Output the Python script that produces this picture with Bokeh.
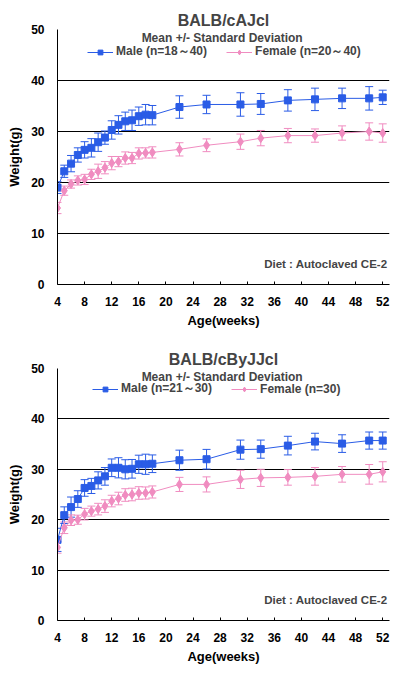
from bokeh.plotting import figure
from bokeh.models import (ColumnDataSource, Whisker, TeeHead, Legend, LegendItem,
                          Label, Range1d, FixedTicker)
from bokeh.layouts import column
from bokeh.embed import file_html
from bokeh.resources import INLINE

# semaines d'âge communes aux deux lignées
weeks = [4, 5, 6, 7, 8, 9, 10, 11, 12, 13, 14, 15, 16, 17, 18, 22, 26, 31, 34, 38, 42, 46, 50, 52]

# BALB/cAJcl
a_male = [19.0, 22.2, 23.7, 25.4, 26.4, 26.8, 27.9, 28.8, 30.3, 31.3, 32.0, 32.2, 33.0, 33.3, 33.2,
          34.8, 35.3, 35.3, 35.4, 36.1, 36.3, 36.5, 36.5, 36.7]
a_male_sd = [1.15, 1.2, 1.6, 1.4, 1.6, 1.8, 1.8, 1.3, 1.8, 1.8, 1.8, 2.0, 1.8, 2.0, 1.9,
             2.2, 1.8, 2.3, 2.05, 2.1, 2.2, 2.0, 2.3, 1.4]
a_female = [15.0, 18.4, 19.7, 20.4, 20.6, 21.6, 22.2, 22.9, 23.8, 24.1, 24.8, 24.8, 25.7, 25.8, 25.9,
            26.5, 27.3, 28.0, 28.7, 29.2, 29.2, 29.7, 30.0, 29.7]
a_female_sd = [1.1, 0.9, 0.8, 0.9, 1.0, 1.0, 1.4, 1.2, 1.3, 1.0, 1.2, 1.1, 1.1, 1.0, 1.1,
               1.3, 1.25, 1.5, 1.5, 1.4, 1.3, 1.4, 1.7, 1.8]

# BALB/cByJJcl
b_male = [16.0, 20.9, 22.5, 24.1, 26.3, 26.7, 27.8, 28.6, 30.3, 30.3, 30.0, 30.1, 31.0, 31.0, 31.1,
          31.8, 32.0, 33.9, 34.0, 34.7, 35.5, 35.1, 35.7, 35.7]
b_male_sd = [2.3, 1.65, 2.0, 1.65, 1.65, 1.5, 1.7, 1.75, 1.75, 2.0, 1.9, 1.85, 1.8, 2.0, 1.75,
             2.0, 1.95, 1.9, 1.8, 1.85, 1.65, 1.75, 1.7, 1.7]
b_female = [14.5, 18.4, 19.9, 20.0, 21.1, 21.7, 22.1, 22.7, 23.7, 24.2, 24.9, 25.0, 25.3, 25.3, 25.5,
            27.0, 27.0, 28.0, 28.3, 28.4, 28.6, 29.0, 29.0, 29.5]
b_female_sd = [1.15, 1.15, 1.05, 0.9, 1.15, 1.0, 1.15, 1.25, 1.15, 1.25, 1.25, 1.25, 1.25, 1.2, 1.2,
               1.4, 1.5, 1.8, 1.7, 1.55, 1.75, 1.55, 1.95, 2.0]

x_ticks = [4, 8, 12, 16, 20, 24, 28, 32, 36, 40, 44, 48, 52]
y_ticks = [0, 10, 20, 30, 40, 50]

BLUE = "#2a5ce6"
PINK = "#f08cc0"
FONT = "Liberation Sans"


def serie(p, mean, sd, color, marker, size):
    src = ColumnDataSource(data=dict(x=weeks, y=mean,
                                     up=[m + s for m, s in zip(mean, sd)],
                                     lo=[m - s for m, s in zip(mean, sd)]))
    p.add_layout(Whisker(source=src, base="x", upper="up", lower="lo", line_color=color,
                         upper_head=TeeHead(size=8, line_color=color),
                         lower_head=TeeHead(size=8, line_color=color)))
    l = p.line("x", "y", source=src, line_color=color, line_width=1)
    s = p.scatter("x", "y", source=src, marker=marker, size=size, color=color)
    return [l, s]


def chart(titre, male, male_sd, female, female_sd, lab_m, lab_f,
          height, top, bottom, standoff, leg_x, leg_y):
    p = figure(width=400, height=height, output_backend="svg", toolbar_location=None,
               x_range=Range1d(4, 53), y_range=Range1d(0, 50),
               min_border_left=57, min_border_right=11, min_border_top=top, min_border_bottom=bottom)
    p.outline_line_color = None
    p.title.text = titre
    p.title.align = "center"
    p.title.text_font = FONT
    p.title.text_font_size = "16px"
    p.title.text_font_style = "bold"
    p.title.standoff = standoff

    p.xgrid.grid_line_color = None
    p.ygrid.grid_line_color = "black"
    p.ygrid.ticker = FixedTicker(ticks=y_ticks)

    p.xaxis.ticker = FixedTicker(ticks=x_ticks)
    p.xaxis.major_tick_in = 3
    p.xaxis.major_tick_out = 0
    p.xaxis.minor_tick_line_color = None
    p.xaxis.major_label_standoff = 12
    p.xaxis.axis_label = "Age(weeks)"
    p.xaxis.axis_label_standoff = 4

    p.yaxis.ticker = FixedTicker(ticks=y_ticks)
    p.yaxis.major_tick_in = 0
    p.yaxis.major_tick_out = 0
    p.yaxis.minor_tick_line_color = None
    p.yaxis.major_label_standoff = 13
    p.yaxis.axis_label = "Weight(g)"
    p.yaxis.axis_label_standoff = 6

    for ax in (p.xaxis, p.yaxis):
        ax.axis_line_color = "black"
        ax.major_tick_line_color = "black"
        ax.major_label_text_font = FONT
        ax.major_label_text_font_size = "12px"
        ax.major_label_text_font_style = "bold"
        ax.major_label_text_color = "black"
        ax.axis_label_text_font = FONT
        ax.axis_label_text_font_size = "13px"
        ax.axis_label_text_font_style = "bold"
        ax.axis_label_text_color = "black"

    rm = serie(p, male, male_sd, BLUE, "square", 7)
    rf = serie(p, female, female_sd, PINK, "diamond", 9)

    leg = Legend(items=[LegendItem(label=lab_m, renderers=rm), LegendItem(label=lab_f, renderers=rf)],
                 orientation="horizontal", location=(leg_x, leg_y),
                 padding=0, margin=0, spacing=19, glyph_width=26, glyph_height=12, label_standoff=3,
                 label_text_font=FONT, label_text_font_size="12px", label_text_font_style="bold",
                 border_line_alpha=0, background_fill_alpha=0)
    p.add_layout(leg)

    p.add_layout(Label(x=28.3, y=48.3, text="Mean +/- Standard Deviation", text_align="center",
                       text_baseline="middle", text_font=FONT, text_font_size="12px",
                       text_font_style="bold"))
    p.add_layout(Label(x=52.7, y=4.1, text="Diet : Autoclaved CE-2", text_align="right",
                       text_baseline="middle", text_font=FONT, text_font_size="11.5px",
                       text_font_style="bold"))
    return p


p1 = chart("BALB/cAJcl", a_male, a_male_sd, a_female, a_female_sd,
           "Male (n=18～40)", "Female (n=20～40)", 335, 29, 51, 1, 30, 224)
p2 = chart("BALB/cByJJcl", b_male, b_male_sd, b_female, b_female_sd,
           "Male (n=21～30)", "Female (n=30)", 335, 33, 50, 2, 35, 223)

p = column(p1, p2)
open("out.html", "w").write(file_html(p, INLINE))
